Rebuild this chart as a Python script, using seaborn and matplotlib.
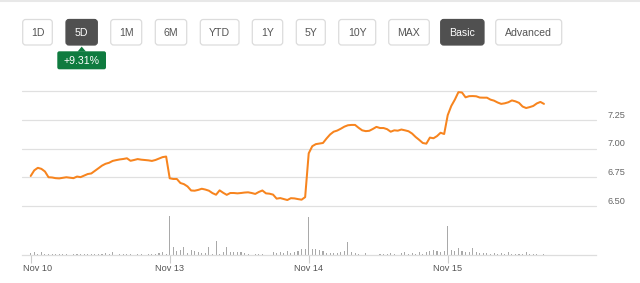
import matplotlib
matplotlib.use("Agg")
import matplotlib.pyplot as plt
import seaborn as sns
import numpy as np
import pandas as pd
from matplotlib.patches import FancyBboxPatch, Polygon
from matplotlib.transforms import ScaledTranslation

# ---------------- data ----------------
price = [
    6.761, 6.81, 6.832, 6.823, 6.80, 6.75, 6.748, 6.742, 6.74, 6.745,
    6.75, 6.746, 6.742, 6.756, 6.751, 6.765, 6.778, 6.783, 6.805, 6.828,
    6.851, 6.867, 6.876, 6.892, 6.899, 6.905, 6.909, 6.915, 6.893, 6.90,
    6.908, 6.903, 6.90, 6.897, 6.892, 6.90, 6.913, 6.925, 6.930,
    6.741, 6.735, 6.735, 6.70, 6.69, 6.67, 6.635, 6.633, 6.64, 6.65,
    6.643, 6.633, 6.612, 6.598, 6.636, 6.615, 6.597, 6.613, 6.613, 6.61,
    6.613, 6.617, 6.619, 6.613, 6.605, 6.622, 6.635, 6.61, 6.607, 6.599,
    6.564, 6.569, 6.56, 6.552, 6.568, 6.566, 6.56, 6.555, 6.577,
    6.958, 7.02, 7.038, 7.043, 7.048, 7.087, 7.122, 7.146, 7.156, 7.172,
    7.19, 7.202, 7.205, 7.205, 7.18, 7.158, 7.151, 7.154, 7.17, 7.188,
    7.178, 7.178, 7.168, 7.146, 7.158, 7.155, 7.165, 7.158, 7.15, 7.13,
    7.10, 7.075, 7.048, 7.042, 7.095, 7.089, 7.108, 7.137, 7.126,
    7.29, 7.37, 7.425, 7.49, 7.487, 7.445, 7.455, 7.456, 7.454, 7.443,
    7.442, 7.442, 7.425, 7.416, 7.40, 7.388, 7.393, 7.402, 7.418, 7.41,
    7.397, 7.365, 7.352, 7.36, 7.37, 7.392, 7.405, 7.388,
]
volume = [  # thousands of shares per 10-minute bar
    25, 33, 15, 33, 13, 10, 13, 10, 8, 13, 10, 0, 10, 10, 8, 10, 10, 8, 10, 13,
    13, 17, 13, 27, 5, 13, 10, 13, 10, 5, 10, 10, 5, 10, 8, 13, 17, 33, 15,
    390, 80, 40, 50, 80, 25, 55, 45, 30, 20, 23, 80, 15, 140, 15, 35, 80, 35, 35, 27,
    27, 17, 10, 5, 10, 10, 10, 5, 5, 27, 23, 33, 23, 45, 23, 33, 45, 60, 60,
    380, 60, 60, 50, 40, 20, 17, 17, 17, 27, 40, 127, 30, 20, 15, 5, 20, 5, 0, 5,
    10, 15, 10, 20, 10, 5, 25, 30, 15, 20, 10, 33, 15, 35, 45, 50, 45, 30, 40,
    293, 47, 40, 67, 40, 33, 27, 67, 33, 20, 17, 17, 13, 17, 13, 17, 13, 33, 10, 10,
    10, 10, 27, 13, 10, 10, 0, 10,
]
day_start = [0, 39, 78, 117]
day_labels = ["Nov 10", "Nov 13", "Nov 14", "Nov 15"]
ytick_vals = [6.50, 6.75, 7.00, 7.25]
ytick_labels = ["6.50", "6.75", "7.00", "7.25"]
grid_vals = [6.50, 6.75, 7.00, 7.25, 7.50]
range_buttons = ["1D", "5D", "1M", "6M", "YTD", "1Y", "5Y", "10Y", "MAX", "Basic", "Advanced"]
active_buttons = ["5D", "Basic"]
change_text = "+9.31%"

df = pd.DataFrame({"t": np.arange(len(price)), "price": price, "volume": volume})

# ---------------- style ----------------
sns.set_theme(style="white")
plt.rcParams["font.family"] = ["Liberation Sans", "DejaVu Sans"]

W, H = 640, 283
fig = plt.figure(figsize=(W / 100, H / 100), dpi=100)
fig.patch.set_facecolor("white")

# UI overlay (pixel coordinates)
ui = fig.add_axes([0, 0, 1, 1])
ui.set_xlim(0, W)
ui.set_ylim(H, 0)
ui.axis("off")
ui.set_zorder(0)
ui.axhline(0.6, color="#e8e8e8", lw=1.5)

btn_x = [(22.7, 52.3), (66, 97.3), (110.7, 141.7), (155.3, 186.7), (200.3, 239),
         (252.3, 282.7), (296.3, 325.3), (338.7, 375.7), (388.7, 429.3),
         (440.7, 484), (495.7, 561.7)]
for lab, (x0, x1) in zip(range_buttons, btn_x):
    active = lab in active_buttons
    ui.add_patch(FancyBboxPatch((x0, 19.5), x1 - x0, 25.5,
                                boxstyle="round,pad=0,rounding_size=3",
                                fc="#505050" if active else "white",
                                ec="#505050" if active else "#dcdcdc", lw=0.9))
    ui.text((x0 + x1) / 2, 32.6, lab, ha="center", va="center", fontsize=7.6,
            color="white" if active else "#555555")

# change badge
ui.add_patch(FancyBboxPatch((57.3, 51.3), 48.7, 18, boxstyle="round,pad=0,rounding_size=2",
                            fc="#0f7b3f", ec="none"))
ui.add_patch(Polygon([(77.5, 51.6), (86, 51.6), (81.7, 46.6)], closed=True, fc="#0f7b3f", ec="none"))
ui.text(81.7, 60.5, change_text, ha="center", va="center", fontsize=7.6, color="white")

XL = (-2.44, 158.6)

# ---------------- price panel ----------------
ax_p = fig.add_axes([22 / W, 1 - 206 / H, (596 - 22) / W, (206 - 91) / H])
ax_p.patch.set_alpha(0)
ax_p.set_zorder(2)
for v in grid_vals:
    ax_p.axhline(v, color="#e0e0e0", lw=0.9, zorder=0, clip_on=False)
sns.lineplot(data=df, x="t", y="price", ax=ax_p, color="#f7841e", linewidth=1.45)
ax_p.set_xlim(*XL)
ax_p.set_ylim(6.5, 7.5)
sns.despine(ax=ax_p, left=True, bottom=True, right=True, top=True)
ax_p.set_xticks([])
ax_p.set_xlabel("")
ax_p.set_ylabel("")
ax_p.yaxis.tick_right()
ax_p.set_yticks(ytick_vals)
ax_p.set_yticklabels(ytick_labels)
ax_p.tick_params(axis="y", length=0, pad=8, labelsize=6.6, labelcolor="#666666", right=False)
off = ScaledTranslation(0, 5.5 / 100, fig.dpi_scale_trans)
for t in ax_p.get_yticklabels():
    t.set_transform(t.get_transform() + off)

# ---------------- volume panel ----------------
ax_v = fig.add_axes([22 / W, 1 - 255 / H, (596 - 22) / W, (255 - 206) / H])
ax_v.patch.set_alpha(0)
ax_v.set_zorder(2)
sns.barplot(data=df, x="t", y="volume", native_scale=True, color="#a9a9a9",
            width=0.3, errorbar=None, ax=ax_v, linewidth=0, saturation=1)
for p in ax_v.patches:
    p.set_antialiased(False)
ax_v.set_xlim(*XL)
ax_v.set_ylim(0, 490)
sns.despine(ax=ax_v, left=True, top=True, right=True)
ax_v.spines["bottom"].set_color("#dddddd")
ax_v.spines["bottom"].set_linewidth(0.9)
ax_v.set_yticks([])
ax_v.set_xlabel("")
ax_v.set_ylabel("")
ax_v.set_xticks(day_start)
ax_v.set_xticklabels(day_labels)
ax_v.tick_params(axis="x", bottom=True, length=5.6, width=0.8, color="#cccccc",
                 labelsize=6.6, labelcolor="#555555", pad=1.2)
first = ax_v.get_xticklabels()[0]
first.set_horizontalalignment("left")
first.set_transform(first.get_transform() + ScaledTranslation(-8 / 100, 0, fig.dpi_scale_trans))

fig.savefig("out.png", dpi=100, facecolor="white")
